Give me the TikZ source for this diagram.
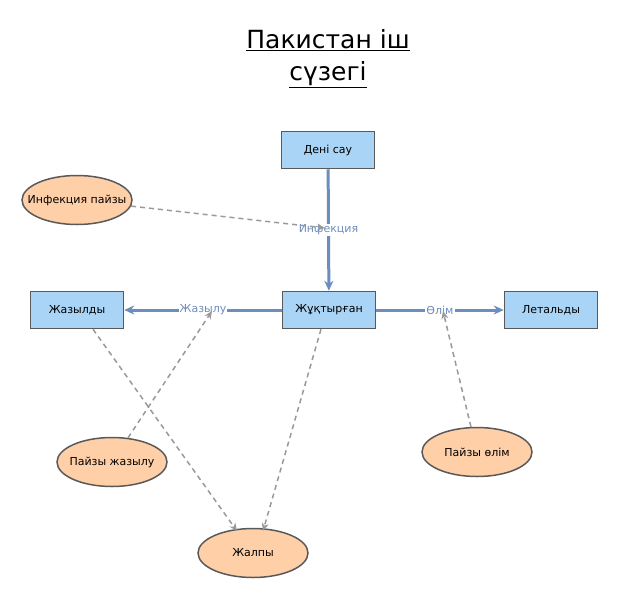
\documentclass[tikz,border=0pt]{standalone}
\usepackage{fontspec}
\setmainfont{DejaVu Sans}
\usetikzlibrary{arrows.meta,shapes.geometric}
\definecolor{boxf}{HTML}{A9D4F5}
\definecolor{ellf}{HTML}{FFCFA8}
\definecolor{flow}{HTML}{6C8EBF}
\begin{document}
\begin{tikzpicture}[x=1pt,y=-1pt,
 box/.style={draw=black!65,fill=boxf,line width=1.5pt,minimum width=93pt,minimum height=37pt,font=\fontsize{11}{13}\selectfont,inner sep=0},
 ell/.style={ellipse,draw=black!65,fill=ellf,line width=1.5pt,minimum width=110pt,minimum height=49pt,font=\fontsize{11}{13}\selectfont,inner xsep=-12pt,inner ysep=0pt},
 fl/.style={draw=flow,line width=3pt,-{Stealth[length=10pt,width=9pt]}},
 lab/.style={fill=white,text=flow,font=\fontsize{11}{13}\selectfont,inner sep=1pt},
 dep/.style={draw=black!40,line width=1.5pt,dash pattern=on 5pt off 4pt,-{Stealth[length=8pt,width=7pt]}}]
\useasboundingbox (0,0) rectangle (620,600);
\node[font=\fontsize{25}{30}\selectfont] (t1) at (328,40) {\underline{Пакистан іш}};
\node[font=\fontsize{25}{30}\selectfont] (t2) at (328,75) {\underline{сүзегі}};
\node[box] (h) at (328,150) {Дені сау};
\node[box] (i) at (329,310) {Жұқтырған};
\node[box] (r) at (77,310) {Жазылды};
\node[box] (d) at (551,310) {Летальды};
\node[ell] (ip) at (77,200) {Инфекция пайзы};
\node[ell] (rp) at (112,462) {Пайзы жазылу};
\node[ell] (dp) at (477,452) {Пайзы өлім};
\node[ell] (tot) at (253,553) {Жалпы};
\draw[fl] (h) -- node[lab] (li) {Инфекция} (i);
\draw[fl] (i) -- node[lab] (lr) {Жазылу} (r);
\draw[fl] (i) -- node[lab] (ld) {Өлім} (d);
\coordinate (ti) at (325,228);
\coordinate (tr) at (212,311);
\coordinate (td) at (443,311);
\coordinate (ta) at (237,531);
\coordinate (tb) at (263,531);
\draw[dep] (ip) -- (ti);
\draw[dep] (rp) -- (tr);
\draw[dep] (dp) -- (td);
\draw[dep] (r.south) ++(16,0) coordinate (rs) -- (ta);
\draw[dep] (i.south) ++(-8,0) coordinate (is) -- (tb);
\end{tikzpicture}
\end{document}
